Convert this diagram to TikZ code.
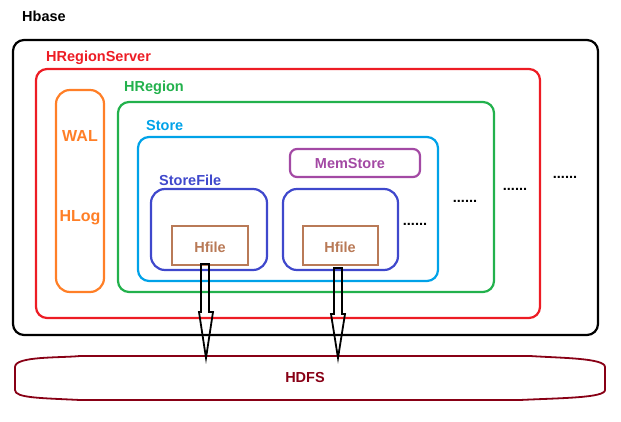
\documentclass[tikz,border=0pt]{standalone}
\usepackage{fontspec}
\setmainfont{Liberation Sans}
\begin{document}
\begin{tikzpicture}[x=1pt,y=-1pt,
 box/.style={line width=2.2pt,rounded corners=11pt},
 lbl/.style={font=\bfseries\fontsize{14.5}{16}\selectfont,anchor=west,inner sep=0pt},
 dots/.style={font=\bfseries\fontsize{14.5}{16}\selectfont,inner sep=0pt}]
\useasboundingbox (0,0) rectangle (621,422);
\definecolor{cred}{RGB}{237,28,36}\definecolor{cgreen}{RGB}{34,177,76}
\definecolor{ccyan}{RGB}{0,162,232}\definecolor{corange}{RGB}{255,127,39}
\definecolor{cblue}{RGB}{63,72,204}\definecolor{cpurple}{RGB}{163,73,164}
\definecolor{cbrown}{RGB}{185,122,87}\definecolor{cdark}{RGB}{136,0,21}
\draw[box] (13,40) rectangle (598,335);
\draw[box,cred] (36,69) rectangle (540,318);
\draw[box,corange,rounded corners=14pt] (56,90) rectangle (104,292);
\draw[box,cgreen] (118,102) rectangle (494,292);
\draw[box,ccyan] (138,137) rectangle (438,281);
\draw[box,cpurple,rounded corners=7pt] (290,149) rectangle (420,177);
\draw[box,cblue,rounded corners=14pt] (151,189) rectangle (267,270);
\draw[box,cblue,rounded corners=14pt] (283,189) rectangle (398,270);
\draw[line width=2.2pt,cbrown] (172,226) rectangle (248,265);
\draw[line width=2.2pt,cbrown] (303,226) rectangle (378,265);
\node[lbl] (t0) at (22,16) {Hbase};
\node[lbl,text=cred] (t1) at (46,58) {HRegionServer};
\node[lbl,text=cgreen] (t2) at (124,88) {HRegion};
\node[lbl,text=ccyan] (t3) at (146,126) {Store};
\node[dots,text=corange,font=\bfseries\fontsize{16}{18}\selectfont] (t4) at (80,136) {WAL};
\node[dots,text=corange,font=\bfseries\fontsize{16}{18}\selectfont] (t5) at (80,218) {HLog};
\node[lbl,text=cblue] (t6) at (159,180) {StoreFile};
\node[dots,text=cpurple] (t7) at (350,164) {MemStore};
\node[dots,text=cbrown] (t8) at (210,247) {Hfile};
\node[dots,text=cbrown] (t9) at (340,247) {Hfile};
\node[dots] (d1) at (415,224) {......};
\node[dots] (d2) at (465,201) {......};
\node[dots] (d3) at (515,189) {......};
\node[dots] (d4) at (565,177) {......};
\draw[line width=1.8pt,cdark] (15,367) .. controls (15,356) and (60,358) .. (80,356) -- (530,356) .. controls (560,358) and (605,358) .. (605,367) -- (605,390) .. controls (605,398) and (560,398) .. (520,400) -- (80,400) .. controls (40,398) and (15,398) .. (15,390) -- cycle;
\node[dots,text=cdark] (hd) at (305,378) {HDFS};
\draw[line width=1.8pt] (201,264) -- (209,264) -- (209,312) -- (213,312) -- (206,358) -- (199,312) -- (201,312) -- cycle;
\draw[line width=1.8pt] (334,268) -- (342,268) -- (342,314) -- (345,314) -- (338,358) -- (331,314) -- (334,314) -- cycle;
\end{tikzpicture}
\end{document}
